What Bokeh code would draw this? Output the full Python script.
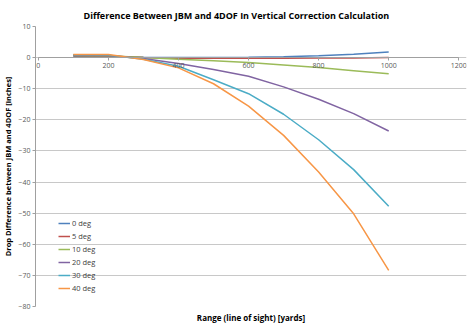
from bokeh.plotting import figure
from bokeh.models import Range1d, FixedTicker, Title, Legend, LegendItem
from bokeh.embed import file_html
from bokeh.resources import INLINE

range_yd = [100, 200, 300, 400, 500, 600, 700, 800, 900, 1000]
deg_0 = [0.4, 0.3, 0.1, 0.0, 0.0, 0.1, 0.3, 0.6, 1.05, 1.8]
deg_5 = [0.6, 0.5, 0.0, -0.2, -0.2, -0.2, -0.2, -0.1, -0.1, 0.0]
deg_10 = [0.7, 0.6, 0.0, -0.5, -1.0, -1.6, -2.4, -3.2, -4.2, -5.2]
deg_20 = [0.8, 0.7, -0.3, -1.9, -3.8, -6.0, -9.4, -13.4, -18.0, -23.6]
deg_30 = [0.9, 0.8, -0.5, -2.8, -7.1, -11.6, -18.2, -26.4, -36.0, -47.8]
deg_40 = [1.0, 1.0, -0.6, -3.3, -8.4, -15.6, -25.0, -36.8, -50.2, -68.4]
series_names = ["0 deg", "5 deg", "10 deg", "20 deg", "30 deg", "40 deg"]
series_values = [deg_0, deg_5, deg_10, deg_20, deg_30, deg_40]
colors = ["#4F81BD", "#C0504D", "#9BBB59", "#8064A2", "#4BACC6", "#F79646"]
x_ticks = [0, 200, 400, 600, 800, 1000, 1200]
y_ticks = [10, 0, -10, -20, -30, -40, -50, -60, -70, -80]

FONT = "Open Sans"

p = figure(width=474, height=329, output_backend="svg", toolbar_location=None,
           x_range=Range1d(-8, 1222), y_range=Range1d(-80, 10),
           min_border_left=34, min_border_right=8, min_border_top=26, min_border_bottom=23)
p.background_fill_color = "white"
p.border_fill_color = "white"
p.outline_line_color = None

p.title.text = "Difference Between JBM and 4DOF In Vertical Correction Calculation"
p.title.text_font = FONT
p.title.text_font_size = "9px"
p.title.text_font_style = "bold"
p.title.align = "left"
p.title.offset = 48
p.title.standoff = 10
p.title.text_color = "#000000"

# x axis at y = 0
xa = p.xaxis[0]
xa.fixed_location = 0
xa.bounds = (0, 1200)
xa.ticker = FixedTicker(ticks=x_ticks)
xa.major_label_text_font = FONT
xa.major_label_text_font_size = "7px"
xa.major_label_text_color = "#595959"
xa.axis_line_color = "#A0A0A0"
xa.major_tick_line_color = "#A0A0A0"
xa.major_tick_in = 0
xa.major_tick_out = 3
xa.minor_tick_line_color = None
xa.major_label_standoff = 2

ya = p.yaxis[0]
ya.ticker = FixedTicker(ticks=y_ticks)
ya.major_label_text_font = FONT
ya.major_label_text_font_size = "7px"
ya.major_label_text_color = "#595959"
ya.axis_line_color = "#A0A0A0"
ya.major_tick_line_color = "#A0A0A0"
ya.major_tick_in = 0
ya.major_tick_out = 3
ya.minor_tick_line_color = None
ya.major_label_standoff = 2
ya.axis_label = "Drop Difference between JBM and 4DOF [inches]"
ya.axis_label_text_font = FONT
ya.axis_label_text_font_size = "7.5px"
ya.axis_label_text_font_style = "bold"
ya.axis_label_text_color = "#000000"
ya.axis_label_standoff = 2

p.xgrid.grid_line_color = None
p.ygrid.ticker = FixedTicker(ticks=y_ticks)
p.ygrid.grid_line_color = "#C8C8C8"
p.ygrid.grid_line_width = 1

xt = Title(text="Range (line of sight) [yards]", align="center", text_font=FONT,
           text_font_size="8px", text_font_style="bold", text_color="#000000", standoff=6)
p.add_layout(xt, "below")

items = []
for name, vals, c in zip(series_names, series_values, colors):
    r = p.line(range_yd, vals, line_color=c, line_width=1.5)
    items.append(LegendItem(label=name, renderers=[r]))

legend = Legend(items=items, location=(23, 12), border_line_color=None,
                background_fill_alpha=0, label_text_font=FONT, label_text_font_size="7.5px",
                label_text_color="#404040", glyph_width=12, glyph_height=12,
                label_height=12, spacing=1, padding=0, margin=0, label_standoff=2)
p.add_layout(legend, "center")

open("out.html", "w").write(file_html(p, INLINE))
